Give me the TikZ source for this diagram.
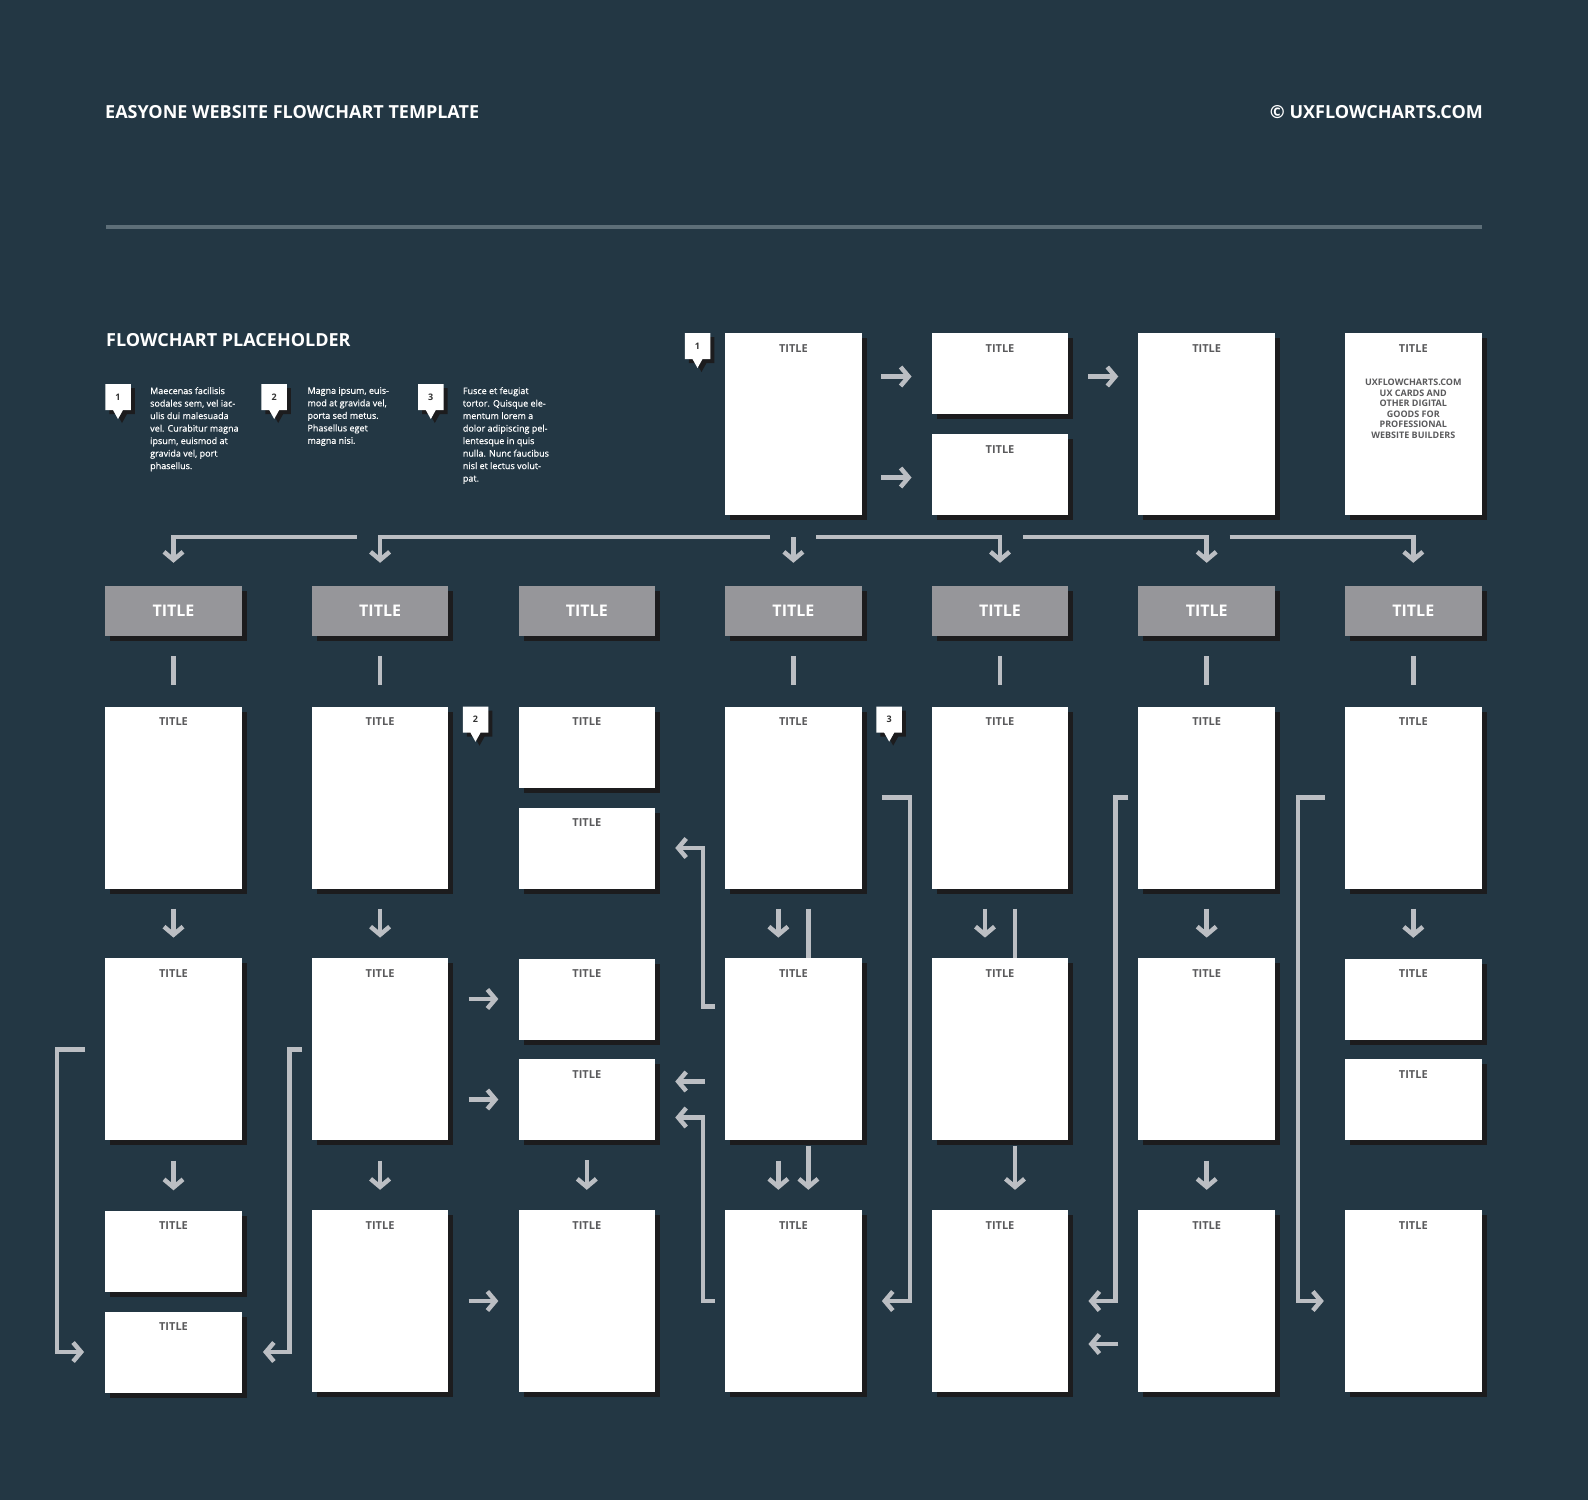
\documentclass[tikz,border=0pt]{standalone}
\usepackage{fontspec}
\setmainfont{Open Sans}
\usetikzlibrary{arrows.meta,shadows,shapes.callouts}
\definecolor{bgcol}{RGB}{35,55,68}
\definecolor{flowgray}{RGB}{187,190,195}
\definecolor{bargray}{RGB}{150,150,154}
\definecolor{shade}{RGB}{28,28,30}
\definecolor{rulecol}{RGB}{93,110,120}
\definecolor{ttlgray}{RGB}{90,90,92}
\begin{document}
\begin{tikzpicture}[x=1pt,y=-1pt,
  box/.style={fill=white,inner sep=0pt,minimum width=136.5pt,
    drop shadow={shadow xshift=5pt,shadow yshift=-5pt,opacity=1,fill=shade}},
  ttl/.style={anchor=north,yshift=-11.5pt,inner sep=0pt,text=ttlgray,
    font=\fontsize{11}{13}\selectfont\bfseries},
  tall/.style={box,minimum height=182pt,label={[ttl]north:TITLE}},
  short/.style={box,minimum height=81pt,label={[ttl]north:TITLE}},
  bar/.style={fill=bargray,inner sep=0pt,minimum width=136.5pt,minimum height=50pt,
    text=white,font=\fontsize{16}{18}\selectfont\bfseries,
    drop shadow={shadow xshift=5pt,shadow yshift=-5pt,opacity=1,fill=shade}},
  note/.style={rectangle callout,fill=white,inner sep=0pt,minimum width=25.5pt,
    minimum height=26pt,callout relative pointer={(0,-9pt)},callout pointer width=10pt,
    text=black!80,font=\fontsize{9}{10}\selectfont\bfseries,
    drop shadow={shadow xshift=4pt,shadow yshift=-4pt,opacity=1,fill=shade}},
  flow/.style={draw=flowgray,line width=4.5pt,-{Straight Barb[length=8pt,width=19pt]}},
  stem/.style={draw=flowgray,line width=4.5pt},
  lgd/.style={anchor=north west,inner sep=0pt,align=left,text=white,
    font=\fontsize{9}{12.5}\selectfont\addfontfeature{FakeBold=0.6}},
  head/.style={inner sep=0pt,text=white,font=\fontsize{18}{22}\selectfont\bfseries}]
  \fill[bgcol] (0,0) rectangle (1588,1500);

  \node[head,anchor=west] (title) at (105,112) {EASYONE WEBSITE FLOWCHART TEMPLATE};
  \node[head,anchor=east] (copy) at (1483,112) {© UXFLOWCHARTS.COM};
  \draw[rulecol,line width=4pt] (106,227) -- (1482,227);
  \node[head,anchor=west] (place) at (106,340) {FLOWCHART PLACEHOLDER};

  \node[note] (k1) at (118,397) {1};
  \node[lgd] (t1) at (150,387) {Maecenas facilisis\\sodales sem, vel iac-\\ulis dui malesuada\\vel. Curabitur magna\\ipsum, euismod at\\gravida vel, port\\phasellus.};
  \node[note] (k2) at (274.2,397) {2};
  \node[lgd] (t2) at (307.3,387) {Magna ipsum, euis-\\mod at gravida vel,\\porta sed metus.\\Phasellus eget\\magna nisi.};
  \node[note] (k3) at (430.8,397) {3};
  \node[lgd] (t3) at (462.7,387) {Fusce et feugiat\\tortor. Quisque ele-\\mentum lorem a\\dolor adipiscing pel-\\lentesque in quis\\nulla. Nunc faucibus\\nisl et lectus volut-\\pat.};

  \node[tall] (r1c4) at (793.4,424) {};
  \node[short] (r1c5a) at (1000,373.5) {};
  \node[short] (r1c5b) at (1000,474.5) {};
  \node[tall] (r1c6) at (1206.7,424) {};
  \node[tall] (r1c7) at (1413.3,424) {};
  \node[anchor=north,inner sep=0pt,align=center,text=ttlgray,
    font=\fontsize{9}{10.5}\selectfont\bfseries] (r1c7txt) at (1413.3,379)
    {UXFLOWCHARTS.COM\\UX CARDS AND\\OTHER DIGITAL\\GOODS FOR\\PROFESSIONAL\\WEBSITE BUILDERS};
  \node[note] (m1) at (697.5,346) {1};

  \node[bar] (g1) at (173.5,611) {TITLE};
  \node[bar] (g2) at (380.1,611) {TITLE};
  \node[bar] (g3) at (586.8,611) {TITLE};
  \node[bar] (g4) at (793.4,611) {TITLE};
  \node[bar] (g5) at (1000,611) {TITLE};
  \node[bar] (g6) at (1206.7,611) {TITLE};
  \node[bar] (g7) at (1413.3,611) {TITLE};

  \node[tall] (r3c1) at (173.5,797.5) {};
  \node[tall] (r3c2) at (380.1,797.5) {};
  \node[short] (r3c3a) at (586.8,747) {};
  \node[short] (r3c3b) at (586.8,848) {};
  \node[tall] (r3c4) at (793.4,797.5) {};
  \node[tall] (r3c5) at (1000,797.5) {};
  \node[tall] (r3c6) at (1206.7,797.5) {};
  \node[tall] (r3c7) at (1413.3,797.5) {};
  \node[note] (m2) at (475.5,719.7) {2};
  \node[note] (m3) at (889.2,719.7) {3};

  \node[tall] (r4c1) at (173.5,1049.3) {};
  \node[tall] (r4c2) at (380.1,1049.3) {};
  \node[short] (r4c3a) at (586.8,999) {};
  \node[short] (r4c3b) at (586.8,1099.5) {};
  \node[tall] (r4c4) at (793.4,1049.3) {};
  \node[tall] (r4c5) at (1000,1049.3) {};
  \node[tall] (r4c6) at (1206.7,1049.3) {};
  \node[short] (r4c7a) at (1413.3,999) {};
  \node[short] (r4c7b) at (1413.3,1099.5) {};

  \node[short] (r5c1a) at (173.5,1251) {};
  \node[short] (r5c1b) at (173.5,1352) {};
  \node[tall] (r5c2) at (380.1,1301) {};
  \node[tall] (r5c3) at (586.8,1301) {};
  \node[tall] (r5c4) at (793.4,1301) {};
  \node[tall] (r5c5) at (1000,1301) {};
  \node[tall] (r5c6) at (1206.7,1301) {};
  \node[tall] (r5c7) at (1413.3,1301) {};

  \draw[flow,shorten <=19.5pt,shorten >=20pt] ([yshift=-3pt]r1c4.east |- r1c5a) -- ([yshift=-3pt]r1c5a.west);
  \draw[flow,shorten <=19.5pt,shorten >=20pt] ([yshift=-3pt]r1c4.east |- r1c5b) -- ([yshift=-3pt]r1c5b.west);
  \draw[flow,shorten <=20pt,shorten >=20pt] ([yshift=-3pt]r1c5a.east) -- ([yshift=-3pt]r1c5a -| r1c6.west);

  \coordinate (bA) at (356.5,537);
  \coordinate (bB) at (770,537);
  \coordinate (bD) at (816,537);
  \coordinate (bE) at (1023,537);
  \coordinate (bF) at (1229.5,537);
  \draw[flow,shorten >=23pt] (bA) -| (g1);
  \draw[flow,shorten >=23pt] (bB) -| (g2);
  \draw[flow,shorten <=22pt,shorten >=23pt] (r1c4) -- (g4);
  \draw[flow,shorten >=23pt] (bD) -| (g5);
  \draw[flow,shorten >=23pt] (bE) -| (g6);
  \draw[flow,shorten >=23pt] (bF) -| (g7);

  \draw[stem,shorten <=20pt,shorten >=21pt] (g1) -- (r3c1);
  \draw[stem,shorten <=20pt,shorten >=21pt] (g2) -- (r3c2);
  \draw[stem,shorten <=20pt,shorten >=21pt] (g4) -- (r3c4);
  \draw[stem,shorten <=20pt,shorten >=21pt] (g5) -- (r3c5);
  \draw[stem,shorten <=20pt,shorten >=21pt] (g6) -- (r3c6);
  \draw[stem,shorten <=20pt,shorten >=21pt] (g7) -- (r3c7);

  \draw[flow,shorten <=20pt,shorten >=20.5pt] (r3c1) -- (r4c1);
  \draw[flow,shorten <=20pt,shorten >=20.5pt] (r3c2) -- (r4c2);
  \draw[flow,shorten <=20pt,shorten >=20.5pt] ([xshift=-15pt]r3c4.south) -- ([xshift=-15pt]r4c4.north);
  \draw[stem,shorten <=20pt] ([xshift=15pt]r3c4.south) -- ([xshift=15pt]r4c4.north);
  \draw[flow,shorten <=20pt,shorten >=20.5pt] ([xshift=-15pt]r3c5.south) -- ([xshift=-15pt]r4c5.north);
  \draw[stem,shorten <=20pt] ([xshift=15pt]r3c5.south) -- ([xshift=15pt]r4c5.north);
  \draw[flow,shorten <=20pt,shorten >=20.5pt] (r3c6) -- (r4c6);
  \draw[flow,shorten <=20pt,shorten >=20.5pt] (r3c7) -- (r4c7a);

  \draw[flow,shorten <=20pt,shorten >=20pt] (r4c1) -- (r5c1a);
  \draw[flow,shorten <=20pt,shorten >=20pt] (r4c2) -- (r5c2);
  \draw[flow,shorten <=20pt,shorten >=20pt] (r4c3b) -- (r5c3);
  \draw[flow,shorten <=20pt,shorten >=20pt] ([xshift=-15pt]r4c4.south) -- ([xshift=-15pt]r5c4.north);
  \draw[flow,shorten <=5pt,shorten >=20pt] ([xshift=15pt]r4c4.south) -- ([xshift=15pt]r5c4.north);
  \draw[flow,shorten <=5pt,shorten >=20pt] ([xshift=15pt]r4c5.south) -- ([xshift=15pt]r5c5.north);
  \draw[flow,shorten <=20pt,shorten >=20pt] (r4c6) -- (r5c6);

  \draw[flow,shorten <=20pt,shorten >=20pt] (r4c2.east |- r4c3a) -- (r4c3a);
  \draw[flow,shorten <=20pt,shorten >=20pt] (r4c2.east |- r4c3b) -- (r4c3b);
  \draw[flow,shorten <=20pt,shorten >=20pt] (r5c2) -- (r5c3);
  \draw[flow,shorten <=20pt,shorten >=20pt] ([yshift=18pt]r4c4.west |- r4c3b) -- ([yshift=18pt]r4c3b.east);
  \draw[flow,shorten >=20pt] ([xshift=-10pt,yshift=43pt]r4c4.west) -| ([xshift=-22pt]r4c4.west |- r3c3b) -- (r3c3b);
  \draw[flow,shorten >=20pt] ([xshift=-10pt]r5c4.west) -| ([xshift=-22pt,yshift=-18pt]r4c4.west |- r4c3b) -- ([yshift=-18pt]r4c3b.east);
  \draw[flow,shorten >=20pt] ([xshift=20pt]r3c4.east) -| ([xshift=48pt]r5c4.east) -- (r5c4.east);
  \draw[flow,shorten >=20pt] ([xshift=-10pt]r3c6.west) -| ([xshift=-23pt]r5c6.west) -- (r5c5.east);
  \draw[flow,shorten <=20pt,shorten >=20pt] ([yshift=-43pt]r5c6.west) -- ([yshift=-43pt]r5c5.east);
  \draw[flow,shorten >=21pt] ([xshift=-20pt]r3c7.west) -| ([xshift=-47pt]r5c7.west) -- (r5c7.west);
  \draw[flow,shorten >=21pt] ([xshift=-20pt]r4c1.west) -| ([xshift=-48pt]r5c1b.west) -- (r5c1b.west);
  \draw[flow,shorten >=21pt] ([xshift=-10pt]r4c2.west) -| ([xshift=-22pt]r4c2.west |- r5c1b) -- (r5c1b.east);
\end{tikzpicture}
\end{document}
